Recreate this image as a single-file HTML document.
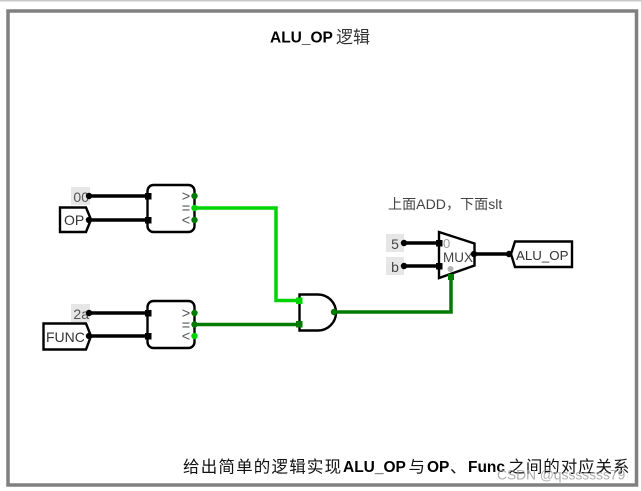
<!DOCTYPE html>
<html>
<head>
<meta charset="utf-8">
<style>
html,body{margin:0;padding:0;background:#fff;}
svg{display:block;filter:blur(0.35px);}
text{font-family:"Liberation Sans","Noto Sans CJK SC",sans-serif;}
</style>
</head>
<body>
<svg width="641" height="491" viewBox="0 0 641 491" xmlns="http://www.w3.org/2000/svg">
<rect x="0" y="0" width="641" height="491" fill="#fff"/>
<rect x="0" y="0" width="641" height="1.500" fill="#c8c8c8"/>
<rect x="8" y="11" width="628.500" height="474" fill="#fff" stroke="#808080" stroke-width="3.500"/>

<text x="270" y="42.500" font-size="15.500" font-weight="bold" fill="#000">ALU_OP</text>
<text x="336" y="43" font-size="17" fill="#333">逻辑</text>
<text x="388" y="209" font-size="14.100" fill="#444">上面ADD，下面slt</text>

<!-- constants -->
<rect x="71" y="187" width="19" height="18" fill="#e6e6e6"/>
<rect x="71" y="304" width="19" height="18" fill="#e6e6e6"/>
<rect x="386" y="234" width="18" height="18" fill="#e6e6e6"/>
<rect x="386" y="257" width="18" height="18" fill="#e6e6e6"/>
<text x="89" y="202" font-size="14" fill="#555" text-anchor="end">00</text>
<text x="89" y="319" font-size="14" fill="#555" text-anchor="end">2a</text>
<text x="395" y="249" font-size="14" fill="#444" text-anchor="middle">5</text>
<text x="395" y="272" font-size="14" fill="#444" text-anchor="middle">b</text>

<!-- black wires -->
<g stroke="#000" stroke-width="3.500" fill="none">
<path d="M89 196H148M89 220H148M89 313H148M89 336H148"/>
<path d="M404 243H439M404 266H439M474 254H509"/>
</g>

<!-- comparators -->
<g fill="#fff" stroke="#000" stroke-width="2.400">
<rect x="147.500" y="185" width="47" height="47" rx="6"/>
<rect x="147.500" y="301" width="47" height="47" rx="6"/>
</g>
<g font-size="14.500" fill="#555" text-anchor="middle">
<text x="186" y="201">&gt;</text><text x="186" y="213">=</text><text x="186" y="225">&lt;</text>
<text x="186" y="318">&gt;</text><text x="186" y="330">=</text><text x="186" y="341">&lt;</text>
</g>

<!-- input pins -->
<path d="M60 207.500H86L91 219.500L86 232H60Z" fill="#fff" stroke="#000" stroke-width="2.400"/>
<text x="64" y="225" font-size="14" fill="#333">OP</text>
<path d="M43.500 323.500H86L91 336L86 349.500H43.500Z" fill="#fff" stroke="#000" stroke-width="2.400"/>
<text x="46" y="342" font-size="14" fill="#333">FUNC</text>

<!-- coloured wires -->
<path d="M195 208H276V300.500H299" fill="none" stroke="#00d400" stroke-width="3.500"/>
<path d="M195 324.500H299" fill="none" stroke="#007a00" stroke-width="3.500"/>
<path d="M334 312H451V274" fill="none" stroke="#007a00" stroke-width="3.500"/>

<!-- AND -->
<path d="M299.500 294.500H318A18 18 0 0 1 318 330.500H299.500Z" fill="#fff" stroke="#000" stroke-width="2.400"/>

<!-- MUX -->
<path d="M439 232L474.500 243.500V265.500L439 278Z" fill="#fff" stroke="#000" stroke-width="2.400"/>
<text x="443" y="248" font-size="13" fill="#999">0</text>
<text x="443" y="262" font-size="13.500" fill="#444">MUX</text>
<circle cx="450.500" cy="269" r="3" fill="#b5b5b5"/>

<!-- output pin -->
<path d="M515 241.500H572V267H515L511 254Z" fill="#fff" stroke="#000" stroke-width="2.400"/>
<text x="516" y="260" font-size="13.300" fill="#333">ALU_OP</text>

<!-- black square/round pins -->
<g fill="#000">
<circle cx="89" cy="196" r="3.200"/><circle cx="89" cy="220" r="3.200"/><circle cx="89" cy="313" r="3.200"/><circle cx="89" cy="336" r="3.200"/>
<rect x="145" y="193" width="6.500" height="6.500"/><rect x="145" y="217" width="6.500" height="6.500"/>
<rect x="145" y="310" width="6.500" height="6.500"/><rect x="145" y="333" width="6.500" height="6.500"/>
<circle cx="404" cy="243" r="3.200"/><circle cx="404" cy="266" r="3.200"/>
<rect x="436" y="240" width="6.500" height="6.500"/><rect x="436" y="263" width="6.500" height="6.500"/>
<circle cx="474" cy="254" r="3.200"/><circle cx="509" cy="254" r="3.200"/>
</g>

<!-- comparator outputs -->
<circle cx="194.500" cy="196" r="3.200" fill="#007a00"/>
<circle cx="194.500" cy="208" r="3.200" fill="#00d400"/>
<circle cx="194.500" cy="220" r="3.200" fill="#007a00"/>
<circle cx="194.500" cy="313" r="3.200" fill="#007a00"/>
<circle cx="194.500" cy="324.500" r="3.200" fill="#007a00"/>
<circle cx="194.500" cy="336" r="3.200" fill="#00d400"/>
<rect x="296" y="297.500" width="6.500" height="6.500" fill="#00d400"/>
<rect x="296" y="321" width="6.500" height="6.500" fill="#007a00"/>
<circle cx="334" cy="312" r="3.200" fill="#007a00"/>
<rect x="448" y="274" width="6" height="6" fill="#007a00"/>

<!-- caption -->
<g font-size="16.500" fill="#111">
<text x="183" y="472.500" letter-spacing="1.200">给出简单的逻辑实现</text>
<text x="343" y="472" font-size="15.500" font-weight="bold" fill="#000">ALU_OP</text>
<text x="408.500" y="472.500">与</text>
<text x="427" y="472" font-size="15.500" font-weight="bold" fill="#000">OP</text>
<text x="450" y="472.500">、</text>
<text x="468" y="472" font-size="15.500" font-weight="bold" fill="#000">Func</text>
<text x="508.500" y="472.500" letter-spacing="0.900">之间的对应关系</text>
</g>
<text x="497" y="479.500" font-size="13.800" fill="#999" fill-opacity="0.8">CSDN @qsssssss79</text>
</svg>
</body>
</html>
